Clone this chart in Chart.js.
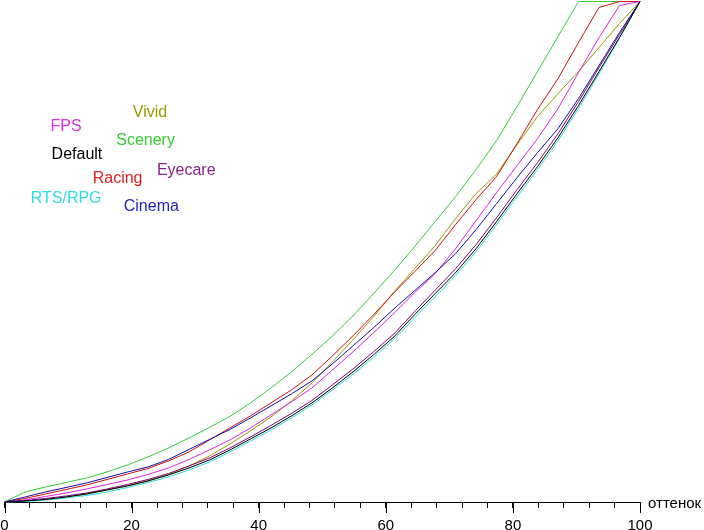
<!DOCTYPE html>
<html>
<head>
<meta charset="utf-8">
<script src="https://cdn.jsdelivr.net/npm/chart.js@4"></script>
<style>
  html, body { margin: 0; padding: 0; background: #fff; }
  #wrap { width: 704px; height: 530px; }
</style>
</head>
<body>
<div id="wrap"><canvas id="chart"></canvas></div>
<script>
// hue steps (%), 32 measured points
const hue = [0, 3.23, 6.45, 9.68, 12.9, 16.13, 19.35, 22.58, 25.81, 29.03, 32.26, 35.48, 38.71, 41.94, 45.16, 48.39,
  51.61, 54.84, 58.06, 61.29, 64.52, 67.74, 70.97, 74.19, 77.42, 80.65, 83.87, 87.1, 90.32, 93.55, 96.77, 100];

// brightness per mode (%)
const scenery = [0, 2.0, 3.0, 3.9, 4.8, 6.0, 7.4, 9.0, 10.8, 12.8, 14.9, 17.1, 19.8, 22.8, 26.0, 29.5,
  33.2, 37.2, 41.6, 46.2, 51.0, 56.0, 61.0, 66.4, 72.2, 79.0, 86.0, 93.0, 100, 100, 100, 100];
const racing = [0, 0.7, 1.6, 2.5, 3.4, 4.5, 5.6, 6.7, 8.2, 10.0, 12.4, 14.8, 17.2, 19.8, 22.4, 25.4,
  29.2, 33.2, 37.4, 41.8, 46.0, 50.2, 55.4, 60.4, 65.0, 71.6, 78.4, 84.6, 91.8, 98.8, 100, 100];
const vivid = [0, 0.2, 0.5, 1.0, 1.6, 2.4, 3.3, 4.3, 5.5, 7.2, 9.2, 11.6, 14.2, 17.0, 20.2, 23.8,
  28.0, 32.4, 37.0, 42.0, 46.6, 51.2, 56.6, 61.6, 65.5, 71.4, 77.0, 81.6, 86.0, 90.8, 95.6, 100];
const fps = [0, 0.4, 1.1, 1.8, 2.6, 3.5, 4.4, 5.5, 6.8, 8.5, 10.4, 12.4, 14.8, 17.4, 20.0, 22.8,
  26.4, 30.0, 33.8, 37.7, 41.8, 45.6, 50.6, 56.2, 61.8, 67.2, 72.6, 78.6, 85.8, 92.8, 99.2, 100];
const cinema = [0, 1.0, 2.0, 2.9, 3.8, 4.9, 6.0, 7.0, 8.5, 10.5, 12.5, 14.5, 16.8, 19.2, 21.6, 24.2,
  27.6, 31.2, 34.8, 38.6, 42.2, 45.8, 49.6, 54.4, 59.6, 64.8, 69.8, 74.6, 80.6, 87.2, 93.8, 100];
const eyecare = [0, 0.3, 0.7, 1.2, 1.8, 2.6, 3.5, 4.5, 5.7, 7.2, 8.8, 10.8, 13.0, 15.3, 17.7, 20.3,
  23.4, 26.6, 30.0, 33.6, 38.0, 42.3, 46.6, 51.4, 56.8, 62.4, 67.8, 73.6, 80.0, 86.8, 93.4, 100];
const defaultMode = [0, 0.2, 0.5, 1.0, 1.6, 2.4, 3.2, 4.2, 5.4, 6.8, 8.4, 10.4, 12.6, 14.8, 17.2, 19.8,
  22.8, 26.0, 29.4, 33.0, 37.4, 41.6, 45.8, 50.6, 56.0, 61.6, 67.0, 72.8, 79.2, 86.0, 92.8, 100];
const rtsRpg = [0, 0.1, 0.4, 0.8, 1.3, 2.0, 2.9, 3.9, 5.0, 6.4, 8.0, 10.0, 12.2, 14.4, 16.8, 19.4,
  22.4, 25.5, 28.9, 32.5, 36.8, 41.0, 45.2, 50.0, 55.4, 61.0, 66.4, 72.2, 78.6, 85.6, 92.6, 100];

const xTicks = [0, 4, 8, 12, 16, 20, 24, 28, 32, 36, 40, 44, 48, 52, 56, 60, 64, 68, 72, 76, 80, 84, 88, 92, 96, 100];
const xLabelEvery = 20;
const axisTitle = "оттенок";

// legend words sitting inside the plot, in data units
const tags = [
  { text: "Vivid",   x: 22.9, y: 77.8, color: "#999900" },
  { text: "FPS",     x: 9.7,  y: 75.0, color: "#e030e0" },
  { text: "Scenery", x: 22.2, y: 72.3, color: "#33cc33" },
  { text: "Default", x: 11.4, y: 69.5, color: "#000000" },
  { text: "Eyecare", x: 28.6, y: 66.3, color: "#882288" },
  { text: "Racing",  x: 17.8, y: 64.7, color: "#dd2222" },
  { text: "RTS/RPG", x: 9.7,  y: 60.7, color: "#33dddd" },
  { text: "Cinema",  x: 23.1, y: 59.1, color: "#2222bb" },
];

const FONT = "'Liberation Sans', Arial, sans-serif";

const toPoints = (vals) => vals.map((v, i) => ({ x: hue[i], y: v }));

const series = [
  { label: "Default", data: defaultMode, color: "#000000" },
  { label: "Eyecare", data: eyecare, color: "#800080" },
  { label: "RTS/RPG", data: rtsRpg, color: "#22dddd" },
  { label: "Cinema", data: cinema, color: "#1010a8" },
  { label: "FPS", data: fps, color: "#e020e0" },
  { label: "Racing", data: racing, color: "#cc1111" },
  { label: "Vivid", data: vivid, color: "#999900" },
  { label: "Scenery", data: scenery, color: "#33cc33" },
];

// longer major ticks, axis title and the in-plot tags
const extras = {
  id: "extras",
  afterDraw(chart) {
    const ctx = chart.ctx;
    const xs = chart.scales.x;
    const ys = chart.scales.y;
    const bottom = chart.chartArea.bottom;
    ctx.save();
    ctx.strokeStyle = "#000";
    ctx.lineWidth = 1;
    ctx.beginPath();
    xTicks.filter(v => v % xLabelEvery === 0).forEach(v => {
      const px = Math.round(xs.getPixelForValue(v)) + 0.5;
      ctx.moveTo(px, bottom);
      ctx.lineTo(px, bottom + 11);
    });
    ctx.stroke();

    ctx.fillStyle = "#000";
    ctx.font = "15px " + FONT;
    ctx.textAlign = "left";
    ctx.textBaseline = "alphabetic";
    ctx.fillText(axisTitle, chart.chartArea.right + 8, bottom + 6);

    ctx.font = "16px " + FONT;
    ctx.textAlign = "center";
    ctx.textBaseline = "middle";
    tags.forEach(t => {
      ctx.fillStyle = t.color;
      ctx.fillText(t.text, xs.getPixelForValue(t.x), ys.getPixelForValue(t.y));
    });
    ctx.restore();
  }
};

new Chart(document.getElementById("chart"), {
  type: "line",
  plugins: [extras],
  data: {
    datasets: series.map(s => ({
      label: s.label,
      data: toPoints(s.data),
      borderColor: s.color,
      backgroundColor: s.color,
      borderWidth: 1,
      pointRadius: 0,
      tension: 0,
      fill: false,
      clip: false,
    })),
  },
  options: {
    responsive: true,
    maintainAspectRatio: false,
    animation: false,
    layout: { padding: { left: 4.5, right: 64, top: 1.5, bottom: 0 } },
    plugins: {
      legend: { display: false },
      tooltip: { enabled: false },
    },
    scales: {
      x: {
        type: "linear",
        min: 0,
        max: 100,
        afterBuildTicks: (scale) => { scale.ticks = xTicks.map(v => ({ value: v })); },
        afterFit: (scale) => { scale.height = 28; scale.paddingLeft = 0; scale.paddingRight = 0; },
        ticks: {
          color: "#000",
          padding: 10,
          maxRotation: 0,
          autoSkip: false,
          font: { family: FONT, size: 15, lineHeight: 1 },
          callback: (v) => (v % xLabelEvery === 0 ? String(v) : ""),
        },
        grid: {
          drawOnChartArea: false,
          drawTicks: true,
          tickLength: 6,
          color: "#000",
          lineWidth: 1,
        },
        border: { display: true, color: "#000", width: 1 },
      },
      y: {
        display: false,
        min: 0,
        max: 100,
      },
    },
  },
});
</script>
</body>
</html>
